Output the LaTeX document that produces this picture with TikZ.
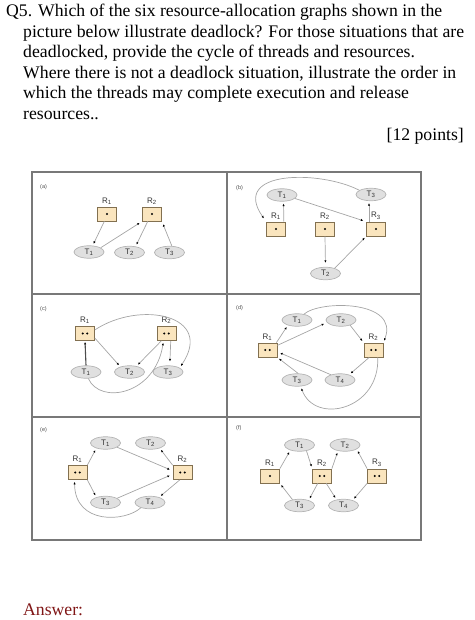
\documentclass[tikz,border=0pt]{standalone}
\usepackage{fontspec}
\setmainfont{Liberation Serif}
\newfontfamily\lblfont{Liberation Sans}
\usetikzlibrary{arrows.meta,shapes.geometric}
\definecolor{boxfill}{RGB}{250,229,190}
\definecolor{boxline}{RGB}{130,112,80}
\definecolor{ellfill}{RGB}{224,224,224}
\definecolor{ellline}{RGB}{180,180,180}
\definecolor{edgegray}{RGB}{165,165,165}
\definecolor{gridgray}{RGB}{120,120,120}
\definecolor{ansred}{RGB}{128,22,22}
\newcommand\onedot[1]{\fill (#1.center) circle (1.1pt);}
\newcommand\twodots{\dotpair}
\newcommand\dotpair[1]{\fill ([xshift=-2.2pt]#1.center) circle (1.1pt); \fill ([xshift=2.2pt]#1.center) circle (1.1pt);}
\begin{document}
\begin{tikzpicture}[x=1pt,y=-1pt,
  qtext/.style={font=\fontsize{17.7}{20}\selectfont, inner sep=0},
  res/.style={rectangle, draw=boxline, fill=boxfill, line width=0.7pt, minimum width=19pt, minimum height=14pt, inner sep=0},
  rlab/.style={font=\lblfont\fontsize{8}{9}\selectfont, text=black!80, inner sep=0.5pt, label distance=1.5pt},
  thr/.style={ellipse, draw=ellline, fill=ellfill, line width=0.7pt, minimum width=30pt, minimum height=12.5pt, inner sep=0, font=\lblfont\fontsize{8}{9}\selectfont, text=black!80},
  plab/.style={font=\lblfont\fontsize{5.5}{6}\selectfont, text=black!70, inner sep=0, anchor=west},
  edge/.style={draw=edgegray, line width=0.7pt, -{Latex[length=2.5pt,width=2.2pt,color=black]}, shorten >=2pt},
  darkedge/.style={draw=black!70, line width=1.1pt, -{Latex[length=2.5pt,width=2.2pt,color=black]}, shorten >=1pt},
  grid/.style={draw=gridgray, line width=1.2pt}]
\useasboundingbox (0,0) rectangle (474,620);

% question text
\node[qtext, anchor=base west] (q1) at (6,17) {Q5. Which of the six resource-allocation graphs shown in the};
\node[qtext, anchor=base west] (q2) at (23,37.5) {picture below illustrate deadlock? For those situations that are};
\node[qtext, anchor=base west] (q3) at (23,58) {deadlocked, provide the cycle of threads and resources.};
\node[qtext, anchor=base west] (q4) at (23,78.5) {Where there is not a deadlock situation, illustrate the order in};
\node[qtext, anchor=base west] (q5) at (23,99) {which the threads may complete execution and release};
\node[qtext, anchor=base west] (q6) at (23,119.5) {resources..};
\node[qtext, anchor=base east] (pts) at (464,141) {[12 points]};
\node[qtext, anchor=base west, text=ansred] (ans) at (23,615) {Answer:};

% grid
\draw[grid] (32,172) rectangle (421,540);
\draw[grid] (227,172) -- (227,540);
\draw[grid] (32,294) -- (421,294);
\draw[grid] (32,417) -- (421,417);

% panel labels
\node[plab] (la) at (40,187) {(a)};
\node[plab] (lb) at (236,188) {(b)};
\node[plab] (lc) at (40,309) {(c)};
\node[plab] (ld) at (236,308) {(d)};
\node[plab] (le) at (40,430) {(e)};
\node[plab] (lf) at (236,428) {(f)};

% ---------- (a)
\node[res,label={[rlab]above:R\textsubscript{1}}] (aR1) at (107,214) {};
\node[res,label={[rlab]above:R\textsubscript{2}}] (aR2) at (152,214) {};
\node[thr] (aT1) at (89,252) {T\textsubscript{1}};
\node[thr] (aT2) at (129.5,252.5) {T\textsubscript{2}};
\node[thr] (aT3) at (169.5,252.5) {T\textsubscript{3}};
\onedot{aR1} \onedot{aR2}
\draw[edge] (aR1.250) -- (aT1.60);
\draw[edge, shorten >=3pt] (aT1.20) -- (aR2.south west);
\draw[edge] (aR2.240) -- (aT2.45);
\draw[edge, shorten >=3pt] (aT3.70) -- (aR2.south east);

% ---------- (b)
\node[thr] (bT1) at (282,195) {T\textsubscript{1}};
\node[thr] (bT3) at (371,194.5) {T\textsubscript{3}};
\node[res,label={[rlab]above:R\textsubscript{1}}] (bR1) at (276,229) {};
\node[res,label={[rlab]above:R\textsubscript{2}}] (bR2) at (325,229) {};
\node[res,label={[rlab]above:R\textsubscript{3}}] (bR3) at (376,229) {};
\node[thr] (bT2) at (325.5,273.5) {T\textsubscript{2}};
\onedot{bR1} \onedot{bR2} \onedot{bR3}
\draw[edge] ([xshift=-2pt]bR1.north east) -- ([xshift=1.5pt]bT1.south);
\draw[edge, shorten >=3pt] (bT1.-15) -- (bR3.north west);
\draw[edge, shorten >=4pt] (bT3.160) .. controls (320,170) and (230,170) .. (bR1.north west);
\draw[edge, shorten >=4pt] (bR2.south) -- (bT2.north);
\draw[edge] (bT2.30) -- (bR3.south west);
\draw[edge] ([xshift=-7pt]bR3.north) -- ([xshift=-2pt]bT3.south);

% ---------- (c)
\node[res,label={[rlab]above:R\textsubscript{1}}] (cR1) at (85,333.5) {};
\node[res,label={[rlab]above:R\textsubscript{2}}] (cR2) at (166.5,333.5) {};
\node[thr] (cT1) at (86,372) {T\textsubscript{1}};
\node[thr] (cT2) at (129.5,372) {T\textsubscript{2}};
\node[thr] (cT3) at (168,372) {T\textsubscript{3}};
\dotpair{cR1} \dotpair{cR2}
\draw[darkedge] (cT1.north) -- (cR1.south);
\draw[edge] (cR1.-25) -- (cT2.150);
\draw[edge] (cR2.235) -- (cT2.40);
\draw[edge, shorten >=4pt] (cR2.-60) -- (cT3.75);
\draw[edge] (cR1.20) .. controls (140,300) and (215,315) .. (cT3.20);
\draw[edge] (cT1.-70) .. controls (100,405) and (155,395) .. ([xshift=-3pt]cR2.south);

% ---------- (d)
\node[res,label={[rlab]above:R\textsubscript{1}}] (dR1) at (267.5,350) {};
\node[res,label={[rlab]above:R\textsubscript{2}}] (dR2) at (373.5,350) {};
\node[thr] (dT1) at (297,320) {T\textsubscript{1}};
\node[thr] (dT2) at (341,320) {T\textsubscript{2}};
\node[thr] (dT3) at (297,380) {T\textsubscript{3}};
\node[thr] (dT4) at (340,380) {T\textsubscript{4}};
\dotpair{dR1} \dotpair{dR2}
\draw[edge] ([xshift=-1pt]dR1.north east) -- (dT1.-150);
\draw[edge, shorten >=3pt] (dR1.25) -- (dT2.-170);
\draw[edge] (dT2.-30) -- (dR2.north west);
\draw[edge] (dR2.-120) -- (dT4.30);
\draw[edge, shorten >=3pt] (dT4.150) -- (dR1.-10);
\draw[edge] (dT3.80) -- (dR1.south east);
\draw[edge] (dT1.40) .. controls (320,300) and (400,300) .. (dR2.north east);
\draw[edge] (dR2.-60) .. controls (380,410) and (315,425) .. (dT3.-60);

% ---------- (e)
\node[res,label={[rlab]above:R\textsubscript{1}}] (eR1) at (77.5,472.5) {};
\node[res,label={[rlab]above:R\textsubscript{2}}] (eR2) at (182.5,472.5) {};
\node[thr] (eT1) at (105.5,443) {T\textsubscript{1}};
\node[thr] (eT2) at (150.5,443) {T\textsubscript{2}};
\node[thr] (eT3) at (105.5,502.5) {T\textsubscript{3}};
\node[thr] (eT4) at (150,502.5) {T\textsubscript{4}};
\dotpair{eR1} \dotpair{eR2}
\draw[edge] (eR1.north east) -- (eT1.-150);
\draw[edge] (eR1.south east) -- (eT3.150);
\draw[edge, shorten >=3pt] (eT1.-20) -- (eR2.170);
\draw[edge, shorten >=3pt] (eT3.20) -- (eR2.-170);
\draw[edge] (eR2.north west) -- (eT2.-30);
\draw[edge] (eR2.-110) -- (eT4.30);
\draw[edge] (eT4.-150) .. controls (125,522) and (75,525) .. ([xshift=-3pt]eR1.south);

% ---------- (f)
\node[res,label={[rlab]above:R\textsubscript{1}}] (fR1) at (270,476) {};
\node[res,label={[rlab]above:R\textsubscript{2}}] (fR2) at (322,476) {};
\node[res,label={[rlab]above:R\textsubscript{3}}] (fR3) at (377,476) {};
\node[thr] (fT1) at (299.5,445) {T\textsubscript{1}};
\node[thr] (fT2) at (345,445) {T\textsubscript{2}};
\node[thr] (fT3) at (299.5,505.5) {T\textsubscript{3}};
\node[thr] (fT4) at (343.5,505.5) {T\textsubscript{4}};
\onedot{fR1} \dotpair{fR2} \dotpair{fR3}
\draw[edge] (fR1.north east) -- (fT1.-150);
\draw[edge] (fT1.-40) -- (fR2.north west);
\draw[edge] (fR2.north east) -- (fT2.-140);
\draw[edge] (fR3.north west) -- (fT2.-20);
\draw[edge] (fR3.south west) -- (fT4.30);
\draw[edge] (fR2.-60) -- (fT4.140);
\draw[edge] (fR2.-120) -- (fT3.30);
\draw[edge] (fT3.140) -- (fR1.south east);
\end{tikzpicture}
\end{document}
